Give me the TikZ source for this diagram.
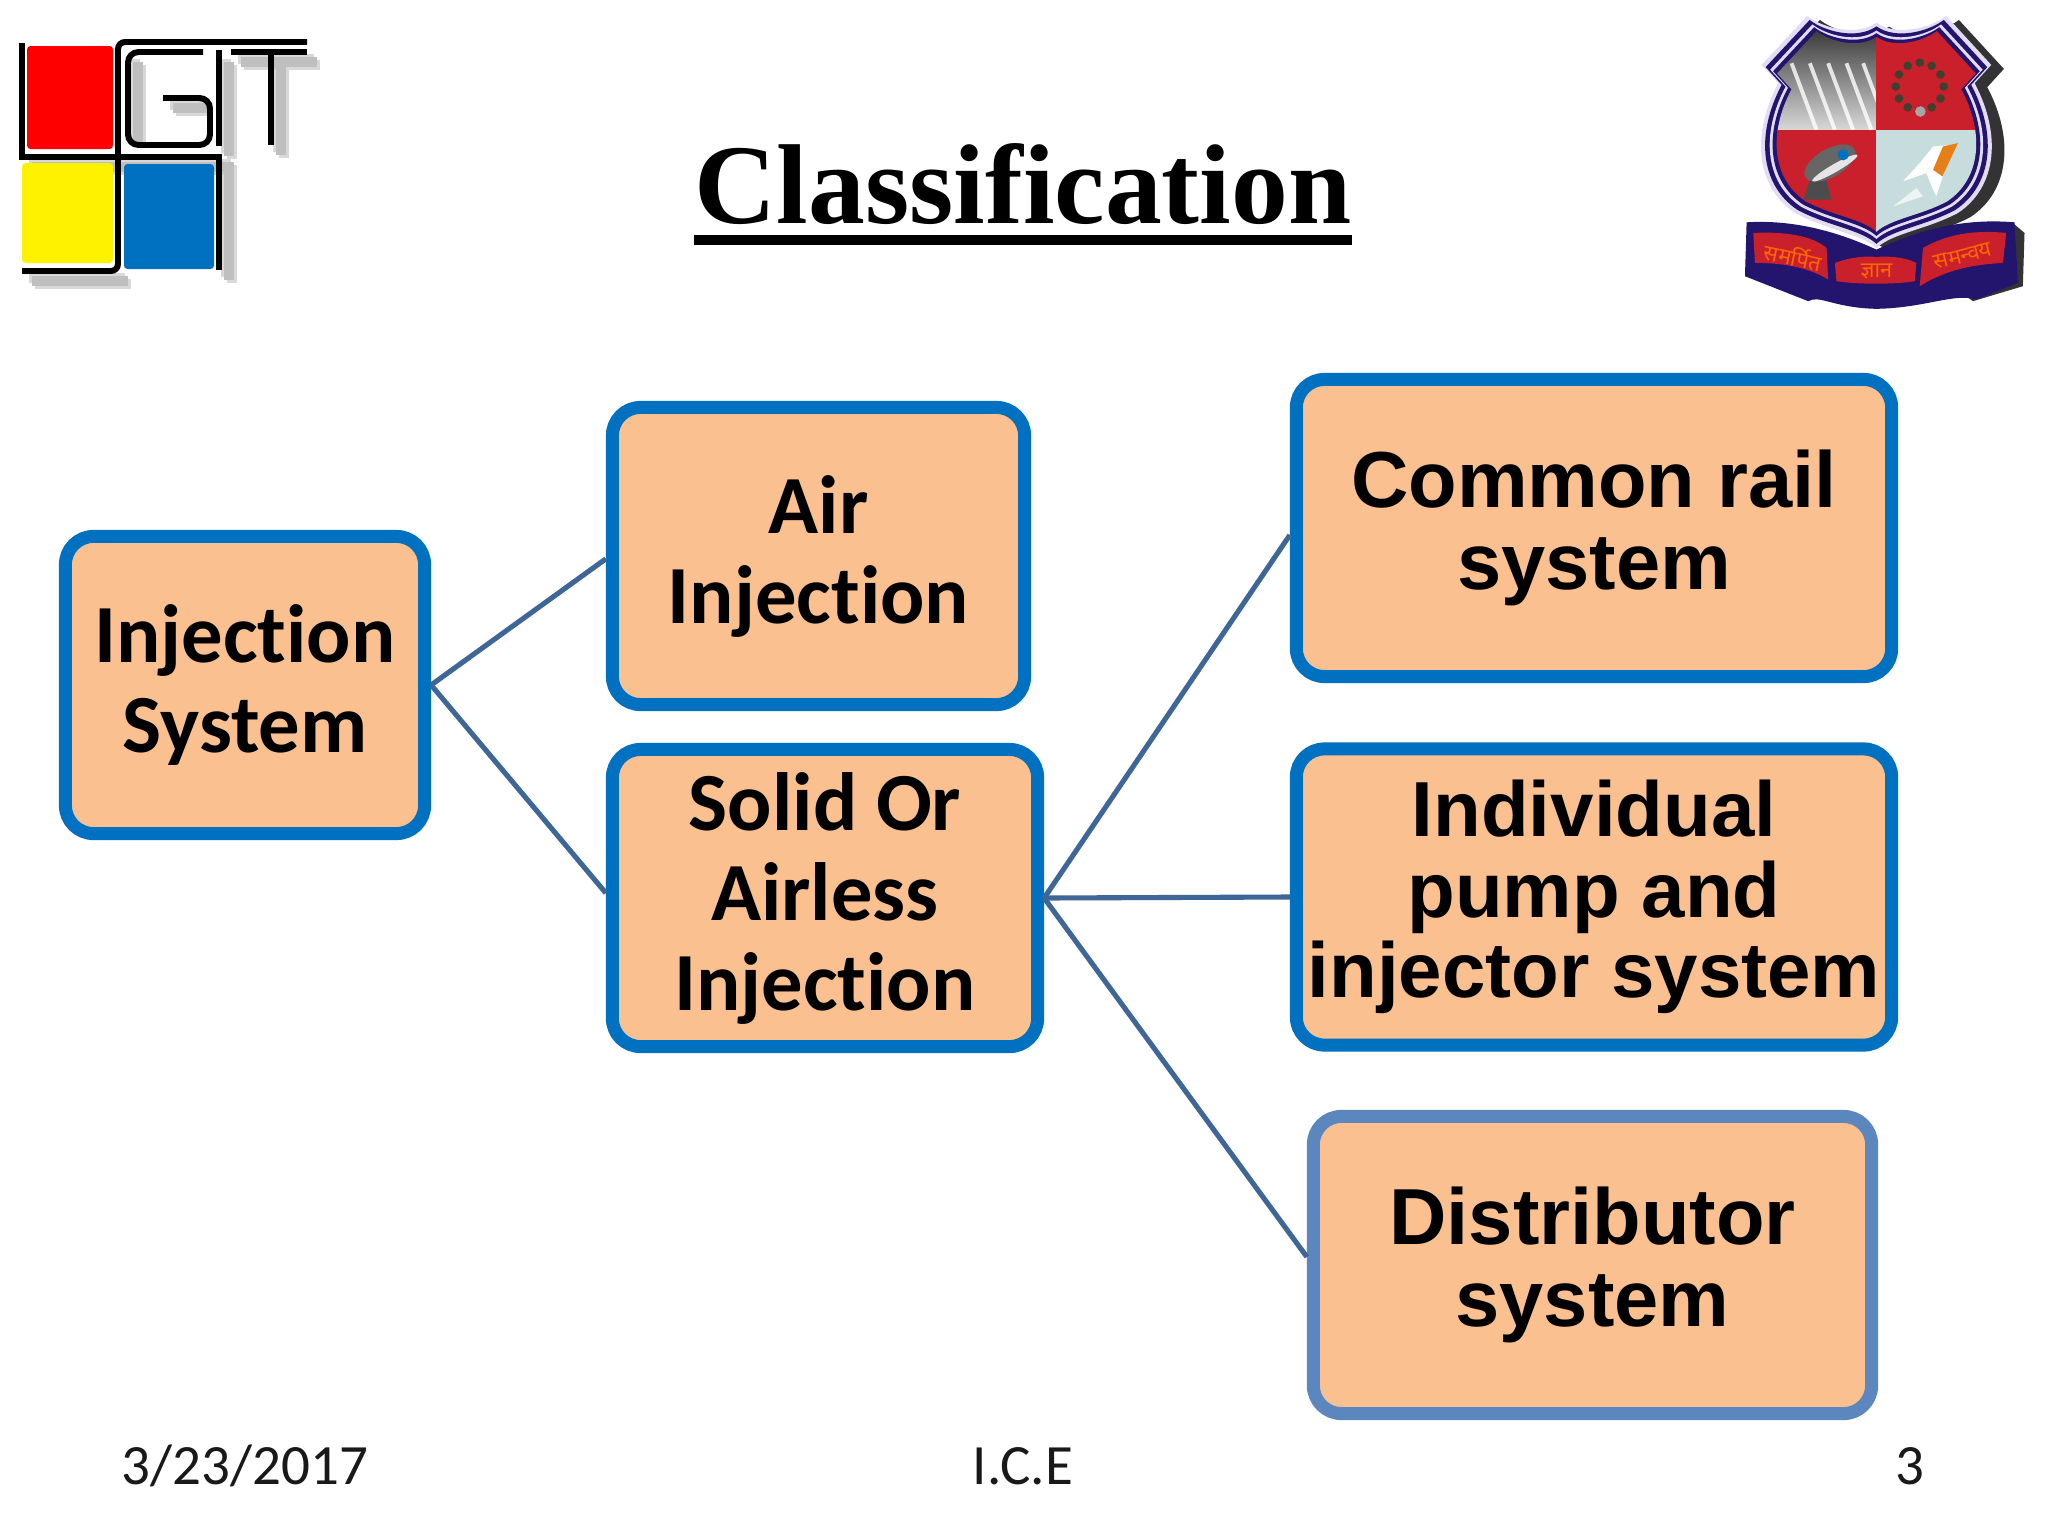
\documentclass[tikz,border=0pt]{standalone}
\usepackage{fontspec}
\setmainfont{Carlito}[Ligatures=NoCommon]
\newfontfamily\arialfont{Liberation Sans}
\newfontfamily\timesfont{Liberation Serif}
\newfontfamily\devfont[Script=Devanagari]{Noto Sans}
\usetikzlibrary{positioning,calc}
\definecolor{boxfill}{HTML}{FAC090}
\definecolor{boxline}{HTML}{0070C0}
\definecolor{boxpale}{HTML}{5B86BE}
\definecolor{linkcol}{HTML}{3E6798}
\definecolor{crestnavy}{HTML}{23146E}
\definecolor{crestred}{HTML}{C9202B}
\definecolor{crestlilac}{HTML}{E4DCF4}
\definecolor{crestpale}{HTML}{C6DCDD}
\newcommand{\shieldpath}{(262,48) .. controls (310,85) and (410,110) .. (470,68)
  .. controls (530,110) and (630,85) .. (680,48) -- (815,195) -- (765,250)
  .. controls (845,400) and (835,560) .. (715,640)
  .. controls (620,690) and (520,700) .. (470,745)
  .. controls (420,700) and (320,690) .. (225,640)
  .. controls (105,560) and (95,400) .. (175,250) -- (125,195) -- cycle}

\begin{document}
\begin{tikzpicture}[
  x=0.01cm, y=-0.01cm,
  blk/.style     = {draw=boxline, fill=boxfill, rounded corners=8pt, line width=3.7pt,
                    align=center, inner sep=0pt, minimum width=#1},
  cal/.style     = {font=\fontsize{23.5}{25.6}\selectfont\bfseries,
                    execute at begin node={\rule{0pt}{24pt}}},
  ari/.style     = {font=\arialfont\fontsize{22.6}{23.5}\selectfont\bfseries,
                    execute at begin node={\rule{0pt}{22.5pt}}},
  link/.style    = {line width=1.45pt, linkcol},
  foot/.style    = {font=\fontsize{16.2}{18}\selectfont, inner sep=0pt, text=black!90},
  lbar/.style    = {line width=1.7pt, black},
  lshade/.style  = {line width=2.6pt, black!25},
  motto/.style   = {font=\devfont\fontsize{6.2}{7}\selectfont, text=orange!80!red, inner sep=0pt}
]
\useasboundingbox (0,0) rectangle (2048,1536);
\fill[white] (0,0) rectangle (2048,1536);

% ======================= title and footer ==================================
\node[font=\timesfont\fontsize{32.3}{34}\selectfont\bfseries, inner sep=0pt] (title) at (1023,184) {Classification};
\draw[line width=2.6pt] (title.west|-0,240) -- (title.east|-0,240);
\node[foot] (date) at (245,1466) {3/23/2017};
\node[foot] (subj) at (1023,1466) {I.C.E};
\node[foot] (page) at (1910,1466) {3};

% ======================= classification boxes ==============================
\node[blk=3.59cm, minimum height=2.97cm, cal] (inj) at (245,685) {Injection\\System};
\node[blk=4.12cm, minimum height=2.97cm, cal] (air) at (818.5,556) {Air\\Injection};
\node[blk=4.25cm, minimum height=2.97cm, cal] (solid) at (825,898) {Solid Or\\Airless\\Injection};
\node[blk=5.95cm, minimum height=2.97cm, ari] (rail) at (1594,528) {Common rail\\system};
\node[blk=5.95cm, minimum height=2.96cm, ari, font=\arialfont\fontsize{22.2}{22.9}\selectfont\bfseries] (indiv) at (1594,897) {Individual\\pump and\\injector system};
\node[blk=5.58cm, minimum height=2.97cm, ari, draw=boxpale] (dist) at (1592.5,1265) {Distributor\\system};

\draw[link] (inj.east) -- ([yshift=-0.8pt]air.west);
\draw[link] (inj.east) -- ([yshift=1.4pt]solid.west);
\draw[link] (solid.east) -- ([yshift=-2pt]rail.west);
\draw[link] (solid.east) -- (indiv.west);
\draw[link] (solid.east) -- ([yshift=2.3pt]dist.west);

% ======================= college logo, left ================================
\foreach \dx/\op in {7/0.6,10/1,13/0.6} {
  \draw[lshade, opacity=\op] (22+\dx,157+\dx) -- (219+\dx,157+\dx) -- (219+\dx,270+\dx) (22+\dx,271+\dx) -- (118+\dx,271+\dx);
  \draw[lshade, opacity=\op] (128+\dx,52+\dx) -- (128+\dx,145) (163+\dx,98+\dx) -- (210,98+\dx);
  \draw[lshade, opacity=\op] (219+\dx,52+\dx) -- (219+\dx,146+\dx) (231+\dx,52+\dx) -- (307+\dx,52+\dx) (271+\dx,52+\dx) -- (271+\dx,145+\dx);
}
\fill[red, rounded corners=1pt] (27,46) rectangle (113,149);
\fill[yellow, rounded corners=1pt] (22,163) rectangle (113,263);
\fill[boxline, rounded corners=1pt] (124,164) rectangle (214,269);
\draw[lbar] (22,43) -- (22,157) -- (222,157);
\draw[lbar] (219,155) -- (219,270);
\draw[lbar, rounded corners=2pt] (307,42) -- (118,42) -- (118,271) -- (22,271);
\draw[lbar, rounded corners=3pt] (203,52) -- (128,52) -- (128,145) -- (210,145) -- (210,98) -- (163,98);
\draw[lbar] (219,50) -- (219,146);
\draw[lbar] (231,52) -- (307,52) (271,52) -- (271,145);

% ======================= university crest, right ===========================
\begin{scope}[shift={(1720,0)}, x=0.00333cm, y=-0.00333cm]
  \fill[black!80, shift={(38,12)}] \shieldpath;
  \fill[crestlilac] \shieldpath;
  \fill[crestnavy, scale around={0.965:(470,390)}] \shieldpath;
  \fill[crestlilac, scale around={0.925:(470,385)}] \shieldpath;
  \fill[crestnavy, scale around={0.90:(470,385)}] \shieldpath;
  \begin{scope}
    \path[clip, scale around={0.865:(470,385)}] \shieldpath;
    \shade[top color=black!85, bottom color=black!15] (100,50) rectangle (470,392);
    \foreach \tx in {215,270,325,380,430} {
      \draw[white, opacity=0.8, line width=1.1pt] (\tx,190) -- (\tx+75,390);
    }
    \fill[crestred] (470,50) rectangle (860,392);
    \fill[crestred] (100,392) rectangle (470,760);
    \fill[crestpale] (470,392) rectangle (860,760);
  \end{scope}
  % wreath
  \foreach \ang in {0,30,...,330} {
    \fill[black!70!olive] ($(600,260)+(\ang:72)$) circle (13);
  }
  \fill[black!35] (602,335) circle (16);
  % dish
  \fill[black!70] (250,600) -- (335,600) -- (310,510) -- (280,510) -- cycle;
  \fill[black!60, rotate around={30:(330,490)}] (330,490) ellipse (85 and 42);
  \fill[black!10, rotate around={30:(345,505)}] (345,505) ellipse (78 and 12);
  \fill[boxline] (370,465) circle (17);
  % shuttle
  \fill[white] (700,435) -- (650,590) -- (640,570) -- (620,520) -- (550,545) -- (600,490) -- (640,440) -- cycle;
  \fill[orange!60!brown] (715,430) -- (670,440) -- (640,510) -- (668,530) -- cycle;
  \fill[white, opacity=0.7] (590,565) -- (520,620) -- (610,590) -- cycle;
  % ribbon
  \fill[black!80] (880,670) -- (915,700) -- (910,860) -- (760,905) -- (740,890) -- cycle;
  \fill[crestnavy] (80,668) .. controls (210,660) and (340,690) .. (470,750)
    .. controls (600,690) and (730,655) .. (885,668) -- (895,850) -- (770,900)
    .. controls (700,880) and (620,925) .. (470,928) .. controls (340,925) and (300,885) .. (265,905)
    -- (75,830) -- cycle;
  \fill[crestred] (100,700) .. controls (200,695) and (280,710) .. (320,745) -- (325,840) .. controls (260,800) and (180,790) .. (105,790) -- cycle;
  \fill[crestred] (345,790) .. controls (400,770) and (440,770) .. (470,772)
    .. controls (500,770) and (550,770) .. (590,790) -- (585,845) .. controls (520,855) and (420,855) .. (350,845) -- cycle;
  \fill[crestred] (610,745) .. controls (680,705) and (760,690) .. (860,700) -- (850,790) .. controls (760,795) and (680,810) .. (600,860) -- cycle;
  \node[motto, rotate=-12] (mottol) at (220,770) {समर्पित};
  \node[motto] (mottoc) at (470,815) {ज्ञान};
  \node[motto, rotate=14] (mottor) at (730,770) {समन्वय};
\end{scope}
\end{tikzpicture}
\end{document}
